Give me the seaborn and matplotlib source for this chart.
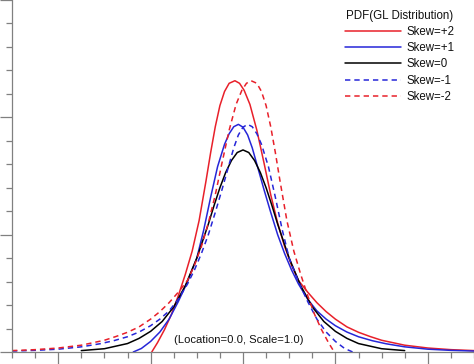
import matplotlib
matplotlib.use("Agg")
import matplotlib.pyplot as plt
import seaborn as sns
import pandas as pd
from matplotlib.ticker import MultipleLocator, NullFormatter

# ---- data (x in minor-tick units, y in minor-tick units) ----
skew_p2_x = [-3.95, -3.7, -3.4, -3.1, -2.8, -2.5, -2.2, -1.9, -1.6, -1.4, -1.2, -1.0, -0.8, -0.6, -0.35, -0.15, 0.05, 0.3, 0.6, 0.9, 1.2, 1.5, 1.8, 2.1, 2.4, 2.8, 3.2, 3.6, 4.0, 4.5, 5.0, 5.5, 6.0, 7.0, 8.0, 9.0, 10.0]
skew_p2_y = [0.0, 0.4, 0.95, 1.6, 2.4, 3.3, 4.3, 5.6, 7.3, 8.5, 9.6, 10.5, 11.1, 11.45, 11.56, 11.45, 11.15, 10.55, 9.45, 8.1, 6.7, 5.5, 4.5, 3.7, 3.05, 2.55, 2.1, 1.72, 1.4, 1.07, 0.84, 0.66, 0.5, 0.29, 0.17, 0.1, 0.06]

skew_p1_x = [-4.75, -4.4, -4.0, -3.6, -3.2, -2.8, -2.4, -2.0, -1.7, -1.4, -1.1, -0.8, -0.6, -0.4, -0.2, 0.0, 0.2, 0.4, 0.6, 0.9, 1.2, 1.5, 1.8, 2.1, 2.4, 2.8, 3.2, 3.6, 4.0, 4.5, 5.0, 5.6, 6.2, 7.0, 8.0, 9.0, 10.0]
skew_p1_y = [0.0, 0.15, 0.45, 0.85, 1.4, 2.15, 3.0, 4.0, 5.2, 6.6, 7.9, 8.85, 9.3, 9.6, 9.70, 9.58, 9.25, 8.7, 8.0, 6.95, 5.95, 5.0, 4.2, 3.5, 2.9, 2.25, 1.75, 1.4, 1.12, 0.85, 0.65, 0.48, 0.35, 0.22, 0.12, 0.07, 0.04]

skew_0_x = [-7, -6, -5, -4.5, -4, -3.5, -3, -2.5, -2, -1.5, -1.25, -1, -0.75, -0.5, -0.25, 0, 0.25, 0.5, 0.75, 1, 1.25, 1.5, 2, 2.5, 3, 3.5, 4, 4.5, 5, 6, 7]
skew_0_y = [0.06, 0.14, 0.36, 0.58, 0.88, 1.3, 1.92, 2.82, 4.0, 5.45, 6.25, 7.0, 7.65, 8.16, 8.5, 8.61, 8.5, 8.16, 7.65, 7.0, 6.25, 5.45, 4.0, 2.82, 1.92, 1.3, 0.88, 0.58, 0.36, 0.14, 0.06]

skew_m1_x = [-10.0, -9.0, -8.0, -7.0, -6.2, -5.6, -5.0, -4.5, -4.0, -3.6, -3.2, -2.8, -2.4, -2.1, -1.8, -1.5, -1.2, -0.9, -0.6, -0.4, -0.2, 0.0, 0.2, 0.4, 0.6, 0.8, 1.1, 1.4, 1.7, 2.0, 2.4, 2.8, 3.2, 3.6, 4.0, 4.4, 4.75]
skew_m1_y = [0.04, 0.07, 0.12, 0.22, 0.35, 0.48, 0.65, 0.85, 1.12, 1.4, 1.75, 2.25, 2.9, 3.5, 4.2, 5.0, 5.95, 6.95, 8.0, 8.7, 9.25, 9.58, 9.70, 9.6, 9.3, 8.85, 7.9, 6.6, 5.2, 4.0, 3.0, 2.15, 1.4, 0.85, 0.45, 0.15, 0.0]

skew_m2_x = [-10.0, -9.0, -8.0, -7.0, -6.0, -5.5, -5.0, -4.5, -4.0, -3.6, -3.2, -2.8, -2.4, -2.1, -1.8, -1.5, -1.2, -0.9, -0.6, -0.3, -0.05, 0.15, 0.35, 0.6, 0.8, 1.0, 1.2, 1.4, 1.6, 1.9, 2.2, 2.5, 2.8, 3.1, 3.4, 3.7, 3.95]
skew_m2_y = [0.06, 0.1, 0.17, 0.29, 0.5, 0.66, 0.84, 1.07, 1.4, 1.72, 2.1, 2.55, 3.05, 3.7, 4.5, 5.5, 6.7, 8.1, 9.45, 10.55, 11.15, 11.45, 11.56, 11.45, 11.1, 10.5, 9.6, 8.5, 7.3, 5.6, 4.3, 3.3, 2.4, 1.6, 0.95, 0.4, 0.0]

series_labels = ["Skew=+2", "Skew=+1", "Skew=0", "Skew=-1", "Skew=-2"]
legend_title = "PDF(GL Distribution)"
note_text = "(Location=0.0, Scale=1.0)"

# ---- styling ----
sns.set_style("white")
plt.rcParams["font.family"] = ["Liberation Sans", "DejaVu Sans"]

RED = "#e8202a"
BLUE = "#2626d8"
BLACK = "#000000"
AXC = "#808080"

fig = plt.figure(figsize=(4.74, 3.64), dpi=100)
ax = fig.add_axes([12 / 474, 12 / 364, 462 / 474, 352 / 364])

curves = [
    (skew_p2_x, skew_p2_y, RED, "-"),
    (skew_p1_x, skew_p1_y, BLUE, "-"),
    (skew_0_x, skew_0_y, BLACK, "-"),
    (skew_m1_x, skew_m1_y, BLUE, (0, (3.5, 2.6))),
    (skew_m2_x, skew_m2_y, RED, (0, (3.5, 2.6))),
]
for (xs, ys, col, ls), lab in zip(curves, series_labels):
    df = pd.DataFrame({"x": xs, "y": ys})
    sns.lineplot(data=df, x="x", y="y", ax=ax, color=col, linestyle=ls,
                 linewidth=1.1, label=lab, sort=False, estimator=None)

ax.set_xlim(-10, 10)
ax.set_ylim(0, 15)
ax.set_xlabel("")
ax.set_ylabel("")

for side in ["top", "right"]:
    ax.spines[side].set_visible(False)
for side in ["left", "bottom"]:
    ax.spines[side].set_color(AXC)
    ax.spines[side].set_linewidth(0.9)

ax.xaxis.set_major_locator(MultipleLocator(4))
ax.xaxis.set_minor_locator(MultipleLocator(1))
ax.yaxis.set_major_locator(MultipleLocator(5))
ax.yaxis.set_minor_locator(MultipleLocator(1))
ax.xaxis.set_major_formatter(NullFormatter())
ax.yaxis.set_major_formatter(NullFormatter())
ax.tick_params(which="major", direction="out", length=8.6, width=0.9, color=AXC,
               bottom=True, left=True)
ax.tick_params(which="minor", direction="out", length=4.3, width=0.9, color=AXC,
               bottom=True, left=True)

ax.text(-0.17, 0.52, note_text, ha="center", va="center", fontsize=8.1, color="#111111")

leg = ax.legend(title=legend_title, loc="upper left",
                bbox_to_anchor=(345 / 474, 1 - 10 / 364), bbox_transform=fig.transFigure,
                frameon=False, fontsize=8.3, title_fontsize=8.3,
                handlelength=4.9, handletextpad=0.45, labelspacing=0.36,
                borderpad=0, borderaxespad=0)
for t in leg.get_texts():
    t.set_color("#111111")
leg.get_title().set_color("#111111")

fig.savefig("out.png", dpi=100)
